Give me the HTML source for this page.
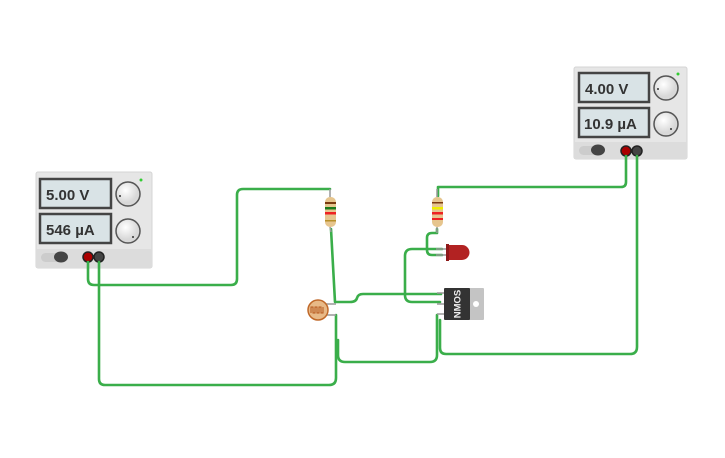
<!DOCTYPE html>
<html><head><style>
body{margin:0;background:#fff;width:725px;height:453px;overflow:hidden;font-family:"Liberation Sans",sans-serif}
</style></head><body>
<svg width="725" height="453" xmlns="http://www.w3.org/2000/svg">
<defs>
<radialGradient id="kn" cx="40%" cy="35%"><stop offset="0" stop-color="#fff"/><stop offset="1" stop-color="#d8d8d8"/></radialGradient>
</defs>
<g>
<rect x="36" y="172" width="116" height="96" rx="2" fill="#e6e6e6" stroke="#d4d4d4"/>
<rect x="36" y="249" width="116" height="19" fill="#dcdcdc"/>
<rect x="40" y="179" width="71" height="29" fill="#d9e3e6" stroke="#444" stroke-width="2.5"/>
<rect x="40" y="214" width="71" height="29" fill="#d9e3e6" stroke="#444" stroke-width="2.5"/>
<text x="46" y="200" font-size="15" font-weight="bold" fill="#333">5.00 V</text>
<text x="46" y="235" font-size="15" font-weight="bold" fill="#333">546 µA</text>
<circle cx="128" cy="194" r="12" fill="url(#kn)" stroke="#555" stroke-width="1.5"/>
<circle cx="128" cy="231" r="12" fill="url(#kn)" stroke="#555" stroke-width="1.5"/>
<circle cx="120" cy="196" r="1" fill="#333"/><circle cx="133" cy="237" r="1" fill="#333"/>
<circle cx="141" cy="180" r="1.5" fill="#3c3"/>
<rect x="41" y="253" width="26" height="9" rx="4.5" fill="#ccc"/>
<ellipse cx="61" cy="257" rx="7" ry="5.5" fill="#444"/>
<circle cx="88" cy="257" r="5" fill="#a00" stroke="#222" stroke-width="1.5"/>
<circle cx="99" cy="257" r="5" fill="#444" stroke="#222" stroke-width="1.5"/>
</g>
<g>
<rect x="574" y="67" width="113" height="92" rx="2" fill="#e6e6e6" stroke="#d4d4d4"/>
<rect x="574" y="142" width="113" height="17" fill="#dcdcdc"/>
<rect x="579" y="73" width="70" height="29" fill="#d9e3e6" stroke="#444" stroke-width="2.5"/>
<rect x="579" y="108" width="70" height="29" fill="#d9e3e6" stroke="#444" stroke-width="2.5"/>
<text x="585" y="94" font-size="15" font-weight="bold" fill="#333">4.00 V</text>
<text x="584" y="129" font-size="15" font-weight="bold" fill="#333">10.9 µA</text>
<circle cx="666" cy="88" r="12" fill="url(#kn)" stroke="#555" stroke-width="1.5"/>
<circle cx="666" cy="124" r="12" fill="url(#kn)" stroke="#555" stroke-width="1.5"/>
<circle cx="658" cy="89" r="1" fill="#333"/><circle cx="671" cy="129" r="1" fill="#333"/>
<circle cx="678" cy="74" r="1.5" fill="#3c3"/>
<rect x="579" y="146" width="26" height="9" rx="4.5" fill="#ccc"/>
<ellipse cx="598" cy="150" rx="7" ry="5.5" fill="#444"/>
<circle cx="626" cy="151" r="5" fill="#a00" stroke="#222" stroke-width="1.5"/>
<circle cx="637" cy="151" r="5" fill="#444" stroke="#222" stroke-width="1.5"/>
</g>
<g fill="none" stroke="#3aae4a" stroke-width="2.6" stroke-linejoin="round" stroke-linecap="round">
<path d="M88 262 V279 q0 6 6 6 H231 q6 0 6 -6 V195 q0 -6 6 -6 H330"/>
<path d="M99 262 V379 q0 6 6 6 H329 q7 0 7 -7 V315"/>
<path d="M331 229 L335 302 H350 q6 0 7 -4 q1 -4 6 -4 H441"/>
<path d="M338 340 V355 q0 7 7 7 H430 q7 0 7 -7 V315"/>
<path d="M637 156 V347 q0 7 -7 7 H446 q-6 0 -6 -6 V320"/>
<path d="M626 156 V182 q0 5 -5 5 H438 V196"/>
<path d="M437 229 V233 H432 q-5 0 -5 5 V250 q0 5 5 5 H442"/>
<path d="M442 249 H412 q-7 0 -7 7 V295 q0 7 7 7 H440"/>
</g>
<g stroke="#999" stroke-width="1.5">
<line x1="330" y1="189" x2="330" y2="197"/><line x1="330" y1="227" x2="331" y2="232"/>
<line x1="437" y1="189" x2="437" y2="197"/><line x1="437" y1="227" x2="437" y2="233"/>
<line x1="326" y1="304" x2="336" y2="304"/><line x1="326" y1="315" x2="336" y2="315"/>
<line x1="437" y1="293" x2="445" y2="293"/><line x1="437" y1="304" x2="445" y2="304"/><line x1="437" y1="314" x2="445" y2="314"/>
<line x1="436" y1="249" x2="447" y2="249"/><line x1="436" y1="255" x2="447" y2="255"/>
</g>
<rect x="325" y="197" width="11" height="30" rx="5" fill="#e6c58e"/>
<rect x="325" y="202" width="11" height="2" fill="#7a3a10"/>
<rect x="325" y="207" width="11" height="2.5" fill="#1a7a1a"/>
<rect x="325" y="212" width="11" height="2.5" fill="#e22"/>
<rect x="325" y="220" width="11" height="1.5" fill="#b8902a"/>
<rect x="432" y="197" width="11" height="30" rx="5" fill="#e6c58e"/>
<rect x="432" y="202" width="11" height="1.5" fill="#7a3a10"/>
<rect x="432" y="207" width="11" height="2.5" fill="#ee0"/>
<rect x="432" y="212" width="11" height="2.5" fill="#e22"/>
<rect x="432" y="218" width="11" height="2" fill="#e22"/>
<path d="M446 245 H462 a7.5 7.5 0 0 1 0 15 H446 Z" fill="#b22222"/>
<rect x="446" y="244" width="3" height="17" fill="#8e1a1a"/>
<circle cx="318" cy="310" r="10" fill="#e8b987" stroke="#c0692a" stroke-width="1.5"/>
<path d="M311 313 V307 h2 v6 h2 v-6 h2 v6 h2 v-6 h2 v6 h2 v-6" fill="none" stroke="#b5561c" stroke-width="1"/>
<rect x="468" y="288" width="16" height="32" rx="1" fill="#c4c4c4"/>
<circle cx="476" cy="304" r="3" fill="#fff"/>
<rect x="444" y="288" width="26" height="32" rx="1" fill="#333"/>
<text x="457" y="304" font-size="9.5" font-weight="bold" fill="#eee" text-anchor="middle" transform="rotate(-90 457 304)" dy="3.5">NMOS</text>
</svg>
</body></html>
